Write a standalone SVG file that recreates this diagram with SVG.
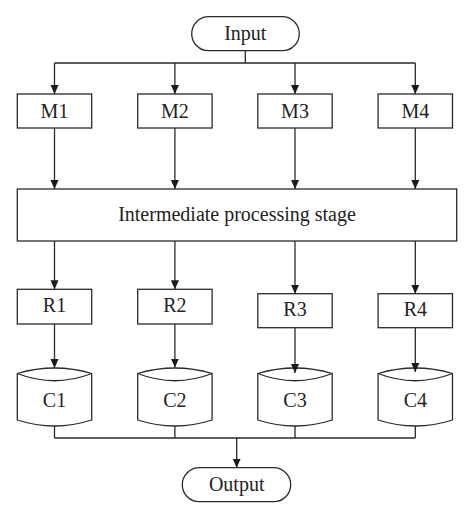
<svg xmlns="http://www.w3.org/2000/svg" width="474" height="519" viewBox="0 0 474 519">
<style>
.shape{fill:#fff;stroke:#2a2a2a;stroke-width:1.3}
.lbl{font-family:"Liberation Serif","Times New Roman",serif;font-size:20px;fill:#222;text-anchor:middle}
.conn{fill:none;stroke:#2a2a2a;stroke-width:1.3}
.arr{marker-end:url(#ah)}
</style>
<defs>
<marker id="ah" viewBox="0 0 10 10" refX="10" refY="5" markerWidth="9" markerHeight="9" markerUnits="userSpaceOnUse" orient="auto">
<path d="M0,0.5 L10,5 L0,9.5 z" fill="#1a1a1a"/>
</marker>
</defs>
<rect width="474" height="519" fill="#fff"/>
<g id="input">
<rect class="shape" x="191.7" y="16.7" width="107.6" height="34" rx="17" ry="17"/>
<text class="lbl" x="245.3" y="39.5">Input</text>
</g>
<g id="m1"><rect class="shape" x="17.3" y="94" width="74.4" height="34"/><text class="lbl" x="54.5" y="117.8">M1</text></g>
<g id="m2"><rect class="shape" x="137.7" y="94" width="74.4" height="34"/><text class="lbl" x="174.9" y="117.8">M2</text></g>
<g id="m3"><rect class="shape" x="257.8" y="94" width="74.4" height="34"/><text class="lbl" x="295" y="117.8">M3</text></g>
<g id="m4"><rect class="shape" x="378.1" y="94" width="74.4" height="34"/><text class="lbl" x="415.3" y="117.8">M4</text></g>
<g id="intermediate">
<rect class="shape" x="17.3" y="189" width="439.4" height="52"/>
<text class="lbl" x="237" y="220.5">Intermediate processing stage</text>
</g>
<g id="r1"><rect class="shape" x="17.3" y="289.3" width="74.4" height="34.7"/><text class="lbl" x="54.5" y="312.2">R1</text></g>
<g id="r2"><rect class="shape" x="137.7" y="289.3" width="74.4" height="34.7"/><text class="lbl" x="174.9" y="312.2">R2</text></g>
<g id="r3"><rect class="shape" x="257.8" y="293.7" width="74.4" height="34"/><text class="lbl" x="295" y="316.2">R3</text></g>
<g id="r4"><rect class="shape" x="378.1" y="293.7" width="74.4" height="34"/><text class="lbl" x="415.3" y="316.2">R4</text></g>
<g id="c1">
<path class="shape" d="M17.3,373.5 Q54.5,362.5 91.7,373.5 V420 Q54.5,432 17.3,420 Z"/>
<path class="conn" d="M17.3,373.5 Q54.5,388 91.7,373.5"/>
<text class="lbl" x="54.5" y="407.2">C1</text>
</g>
<g id="c2">
<path class="shape" d="M137.7,373.5 Q174.9,362.5 212.1,373.5 V420 Q174.9,432 137.7,420 Z"/>
<path class="conn" d="M137.7,373.5 Q174.9,388 212.1,373.5"/>
<text class="lbl" x="174.9" y="407.2">C2</text>
</g>
<g id="c3">
<path class="shape" d="M257.8,373.5 Q295,362.5 332.2,373.5 V420 Q295,432 257.8,420 Z"/>
<path class="conn" d="M257.8,373.5 Q295,388 332.2,373.5"/>
<text class="lbl" x="295" y="407.2">C3</text>
</g>
<g id="c4">
<path class="shape" d="M378.1,373.5 Q415.3,362.5 452.5,373.5 V420 Q415.3,432 378.1,420 Z"/>
<path class="conn" d="M378.1,373.5 Q415.3,388 452.5,373.5"/>
<text class="lbl" x="415.3" y="407.2">C4</text>
</g>
<g id="output">
<rect class="shape" x="182.3" y="467.7" width="108.4" height="34" rx="17" ry="17"/>
<text class="lbl" x="236.7" y="490.5">Output</text>
</g>
<g id="connectors">
<path class="conn" d="M245.3,51 V63 M54.5,63 H415.3"/>
<path class="conn arr" d="M54.5,63 V94"/>
<path class="conn arr" d="M174.9,63 V94"/>
<path class="conn arr" d="M295,63 V94"/>
<path class="conn arr" d="M415.3,63 V94"/>
<path class="conn arr" d="M54.5,128 V189"/>
<path class="conn arr" d="M174.9,128 V189"/>
<path class="conn arr" d="M295,128 V189"/>
<path class="conn arr" d="M415.3,128 V189"/>
<path class="conn arr" d="M54.5,241 V289.3"/>
<path class="conn arr" d="M174.9,241 V289.3"/>
<path class="conn arr" d="M295,241 V293.7"/>
<path class="conn arr" d="M415.3,241 V293.7"/>
<path class="conn arr" d="M54.5,324 V368"/>
<path class="conn arr" d="M174.9,324 V367.5"/>
<path class="conn arr" d="M295,327.7 V373"/>
<path class="conn arr" d="M415.3,327.7 V372"/>
<path class="conn" d="M54.5,426 V438 M174.9,426 V438 M295,426 V438 M415.3,426 V438 M54.5,438 H415.3"/>
<path class="conn arr" d="M236.7,438 V467.7"/>
</g>
</svg>
